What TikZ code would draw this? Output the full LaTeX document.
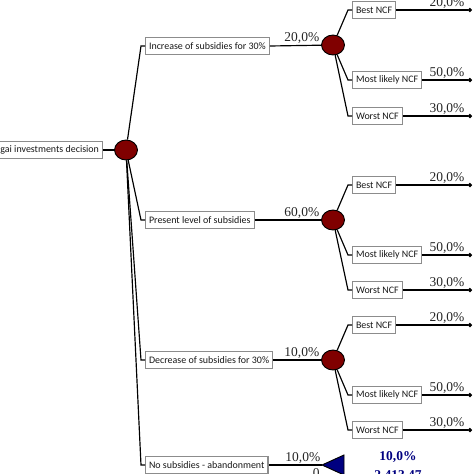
\documentclass[tikz,border=0pt]{standalone}
\usepackage{fontspec}
\setmainfont{Liberation Serif}
\newfontfamily\boxfont{Carlito}
\usepackage{tikz}
\usetikzlibrary{calc}
\usetikzlibrary{arrows.meta}
\definecolor{chred}{rgb}{0.5,0,0}
\definecolor{navy}{rgb}{0,0,0.5}
\definecolor{boxgray}{rgb}{0.55,0.55,0.55}

\begin{document}
\begin{tikzpicture}[x=0.03cm, y=-0.03cm,
		box/.style = {rectangle, draw=boxgray, line width=0.9pt, fill=white, inner sep=3pt, minimum height=15pt, font=\boxfont\fontsize{8.5}{10}\selectfont, text=black!90},
		chance/.style = {circle, draw=black, line width=0.8pt, fill=chred, minimum size=17pt, inner sep=0pt, xscale=1.15},
		term/.style = {draw=black, line width=0.8pt, fill=navy},
		prob/.style = {font=\fontsize{11.5}{12}\selectfont, inner sep=1pt, text=black!85},
		probr/.style = {prob, xshift=-5pt},
		val/.style = {font=\bfseries\fontsize{11.5}{12}\selectfont, text=navy},
		wire/.style = {line width=1pt},
		endw/.style = {wire, -{Circle[length=3.5pt]}}
		]
		
		\useasboundingbox (0,0) rectangle (474,474);
		\clip (0,0) rectangle (474,474);
		
		%Nodes
		\node[box, anchor=east]	(root)	at	(103,150)	{gai investments decision};
		\node[chance]	(c0)	at	(126,150)	{};
		
		\node[box, anchor=west]	(b1)	at	(145,46)	{Increase of subsidies for 30\%};
		\node[box, anchor=west]	(b2)	at	(145,220)	{Present level of subsidies};
		\node[box, anchor=west]	(b3)	at	(145,360)	{Decrease of subsidies for 30\%};
		\node[box, anchor=west]	(b4)	at	(145,465)	{No subsidies - abandonment};
		
		\node[chance]	(c1)	at	(333,45)	{};
		\node[chance]	(c2)	at	(333,220)	{};
		\node[chance]	(c3)	at	(333,360)	{};
		\coordinate		(t4)	at	(322,465);
		
		\node[box, anchor=west]	(n11)	at	(352,10)	{Best NCF};
		\node[box, anchor=west]	(n12)	at	(352,80)	{Most likely NCF};
		\node[box, anchor=west]	(n13)	at	(352,116)	{Worst NCF};
		\node[box, anchor=west]	(n21)	at	(352,185)	{Best NCF};
		\node[box, anchor=west]	(n22)	at	(352,255)	{Most likely NCF};
		\node[box, anchor=west]	(n23)	at	(352,290)	{Worst NCF};
		\node[box, anchor=west]	(n31)	at	(352,325)	{Best NCF};
		\node[box, anchor=west]	(n32)	at	(352,395)	{Most likely NCF};
		\node[box, anchor=west]	(n33)	at	(352,430)	{Worst NCF};
		
		\coordinate	(e11)	at	(472,10);
		\coordinate	(e12)	at	(472,80);
		\coordinate	(e13)	at	(472,116);
		\coordinate	(e21)	at	(472,185);
		\coordinate	(e22)	at	(472,255);
		\coordinate	(e23)	at	(472,290);
		\coordinate	(e31)	at	(472,325);
		\coordinate	(e32)	at	(472,395);
		\coordinate	(e33)	at	(472,430);
		
		\node[prob, anchor=north east]	(z4)	at	(321,467)	{0};
		\node[val]	(v4)	at	(398,457)	{10,0\%};
		\node[val]	(w4)	at	(398,476)	{2.413,47};
		
		%Lines
		\draw[wire]	(root.east)	--	(c0);
		\draw[wire]	(c0)	--	($(b1.west)+(-4,0)$)	--	(b1.west);
		\draw[wire]	(c0)	--	($(b2.west)+(-4,0)$)	--	(b2.west);
		\draw[wire]	(c0)	--	($(b3.west)+(-4,0)$)	--	(b3.west);
		\draw[wire]	(c0)	--	($(b4.west)+(-4,0)$)	--	(b4.west);
		
		\draw[wire]	(b1.east)	--	node[prob, pos=1, anchor=south east]	{20,0\%}	(c1);
		\draw[wire]	(b2.east)	--	node[prob, pos=1, anchor=south east]	{60,0\%}	(c2);
		\draw[wire]	(b3.east)	--	node[prob, pos=1, anchor=south east]	{10,0\%}	(c3);
		\draw[wire]	(b4.east)	--	node[prob, pos=1, anchor=south east]	{10,0\%}	(t4);
		
		\draw[wire]	(c1)	--	($(n11.west)+(-4,0)$)	--	(n11.west);
		\draw[wire]	(c1)	--	($(n12.west)+(-4,0)$)	--	(n12.west);
		\draw[wire]	(c1)	--	($(n13.west)+(-4,0)$)	--	(n13.west);
		\draw[wire]	(c2)	--	($(n21.west)+(-4,0)$)	--	(n21.west);
		\draw[wire]	(c2)	--	($(n22.west)+(-4,0)$)	--	(n22.west);
		\draw[wire]	(c2)	--	($(n23.west)+(-4,0)$)	--	(n23.west);
		\draw[wire]	(c3)	--	($(n31.west)+(-4,0)$)	--	(n31.west);
		\draw[wire]	(c3)	--	($(n32.west)+(-4,0)$)	--	(n32.west);
		\draw[wire]	(c3)	--	($(n33.west)+(-4,0)$)	--	(n33.west);
		
		\draw[endw]	(n11.east)	--	node[probr, pos=1, anchor=south east]	{20,0\%}	(e11);
		\draw[endw]	(n12.east)	--	node[probr, pos=1, anchor=south east]	{50,0\%}	(e12);
		\draw[endw]	(n13.east)	--	node[probr, pos=1, anchor=south east]	{30,0\%}	(e13);
		\draw[endw]	(n21.east)	--	node[probr, pos=1, anchor=south east]	{20,0\%}	(e21);
		\draw[endw]	(n22.east)	--	node[probr, pos=1, anchor=south east]	{50,0\%}	(e22);
		\draw[endw]	(n23.east)	--	node[probr, pos=1, anchor=south east]	{30,0\%}	(e23);
		\draw[endw]	(n31.east)	--	node[probr, pos=1, anchor=south east]	{20,0\%}	(e31);
		\draw[endw]	(n32.east)	--	node[probr, pos=1, anchor=south east]	{50,0\%}	(e32);
		\draw[endw]	(n33.east)	--	node[probr, pos=1, anchor=south east]	{30,0\%}	(e33);
		
		\filldraw[term]	(t4)	--	++(22,-10)	--	++(0,20)	--	cycle;
	\end{tikzpicture}
\end{document}
